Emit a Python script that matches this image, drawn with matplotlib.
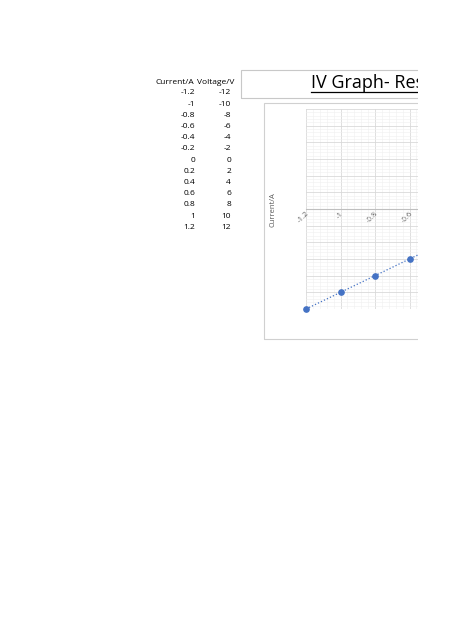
import matplotlib
matplotlib.use("Agg")
import matplotlib.pyplot as plt
from matplotlib.patches import Rectangle
from matplotlib.ticker import MultipleLocator

current = [-1.2, -1, -0.8, -0.6, -0.4, -0.2, 0, 0.2, 0.4, 0.6, 0.8, 1, 1.2]
voltage = [-12, -10, -8, -6, -4, -2, 0, 2, 4, 6, 8, 10, 12]
cur_labels = ["-1.2", "-1", "-0.8", "-0.6", "-0.4", "-0.2", "0", "0.2", "0.4", "0.6", "0.8", "1", "1.2"]
volt_labels = ["-12", "-10", "-8", "-6", "-4", "-2", "0", "2", "4", "6", "8", "10", "12"]

W, H = 474, 632
fig = plt.figure(figsize=(W/100, H/100), dpi=100)
plt.rcParams['font.family'] = ['Open Sans', 'DejaVu Sans']

def fx(x): return x / W
def fy(y): return 1 - y / H

# table
fig.text(fx(175), fy(82), "Current/A", fontsize=6, ha="center", va="center")
fig.text(fx(216), fy(82), "Voltage/V", fontsize=6, ha="center", va="center")
for i, (c, v) in enumerate(zip(cur_labels, volt_labels)):
    y = 93 + i * 11.2
    fig.text(fx(195), fy(y), c, fontsize=6, ha="right", va="center")
    fig.text(fx(231), fy(y), v, fontsize=6, ha="right", va="center")

# title box
fig.patches.append(Rectangle((fx(241), fy(98)), fx(300), 28/H, transform=fig.transFigure,
                             fill=False, ec="#c8c8c8", lw=0.8))
fig.text(fx(311), fy(83), "IV Graph- Resistor", fontsize=13, ha="left", va="center")
fig.lines.append(plt.Line2D([fx(311), fx(470)], [fy(92), fy(92)], transform=fig.transFigure,
                            color="black", lw=0.9))
# chart frame
fig.patches.append(Rectangle((fx(264), fy(339)), fx(300), 236/H, transform=fig.transFigure,
                             fill=False, ec="#d0d0d0", lw=0.8))

ax = fig.add_axes([fx(306), fy(309), fx(414), 200/H])
ax.set_xlim(-1.2, 1.2)
ax.set_ylim(-12, 12)
ax.xaxis.set_major_locator(MultipleLocator(0.2))
ax.xaxis.set_minor_locator(MultipleLocator(0.04))
ax.yaxis.set_major_locator(MultipleLocator(2))
ax.yaxis.set_minor_locator(MultipleLocator(0.4))
ax.grid(which="major", color="#d9d9d9", lw=0.6)
ax.grid(which="minor", color="#efefef", lw=0.4)
for s in ["top", "right", "left"]:
    ax.spines[s].set_visible(False)
ax.spines["bottom"].set_position(("data", 0))
ax.spines["bottom"].set_color("#bfbfbf")
ax.tick_params(axis="both", which="both", length=0, pad=1)
ax.set_yticklabels([])
ax.set_xticks(current)
ax.set_xticklabels(cur_labels, rotation=45, fontsize=5.5, color="#595959",
                   ha="right", va="top", rotation_mode="anchor")
ax.plot(current, voltage, ls=":", color="#4472C4", lw=0.9)
ax.plot(current, voltage, ls="none", marker="o", ms=3.8, color="#4472C4", clip_on=False)
fig.text(fx(273), fy(210), "Current/A", rotation=90, fontsize=5.5, color="#595959", ha="center", va="center")

# page clip on the right
fig.patches.append(Rectangle((fx(418), 0), 1, 1, transform=fig.transFigure, fc="white", ec="none", zorder=100))

fig.savefig("out.png", dpi=100)
